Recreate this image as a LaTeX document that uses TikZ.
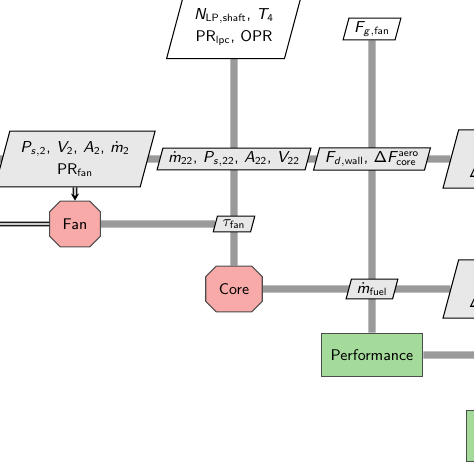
\documentclass[tikz,border=0pt]{standalone}
\usetikzlibrary{arrows, arrows.meta, shapes.geometric, shapes.misc}
\DeclareSymbolFont{sfit}{OT1}{cmss}{m}{sl}
\SetSymbolFont{operators}{normal}{OT1}{cmss}{m}{n}
\DeclareMathSymbol{A}{\mathalpha}{sfit}{`A}
\DeclareMathSymbol{F}{\mathalpha}{sfit}{`F}
\DeclareMathSymbol{N}{\mathalpha}{sfit}{`N}
\DeclareMathSymbol{P}{\mathalpha}{sfit}{`P}
\DeclareMathSymbol{T}{\mathalpha}{sfit}{`T}
\DeclareMathSymbol{V}{\mathalpha}{sfit}{`V}
\DeclareMathSymbol{d}{\mathalpha}{sfit}{`d}
\DeclareMathSymbol{g}{\mathalpha}{sfit}{`g}
\DeclareMathSymbol{m}{\mathalpha}{sfit}{`m}
\DeclareMathSymbol{s}{\mathalpha}{sfit}{`s}
\definecolor{fnred}{HTML}{F8AAA8}
\definecolor{prfgreen}{HTML}{A4DB9A}
\definecolor{iogray}{HTML}{E8E8E8}
\definecolor{lgray}{HTML}{9A9A9A}
\pgfdeclarelayer{back}
\pgfsetlayers{back,main}

\begin{document}
\begin{tikzpicture}[x=0.02cm, y=-0.02cm, >=stealth', semithick,
  font=\fontsize{8.8}{12.5}\selectfont\sffamily,
  io/.style={trapezium, trapezium left angle=75, trapezium right angle=105,
    draw, fill=iogray, inner xsep=3pt, inner ysep=2pt},
  iobig/.style={io, inner xsep=6pt, inner ysep=6pt, align=center},
  func/.style={chamfered rectangle, chamfered rectangle xsep=3pt,
    chamfered rectangle ysep=3pt, draw=black!70, fill=fnred,
    minimum height=26pt, inner xsep=4.5pt},
  perfbox/.style={rectangle, draw=black!70, fill=prfgreen,
    minimum height=25pt, inner xsep=5.5pt},
  dline/.style={draw=lgray, line width=4pt},
  proc/.style={draw=black, double=black!20, double distance=1.2pt, line width=0.7pt}]

  \useasboundingbox (0,0) rectangle (474,474);
  \clip (0,0) rectangle (474,474);

  \node[iobig, fill=white, inner ysep=7.5pt] (lpc) at (234,27) {$N_{\mathsf{LP,shaft}}$, $T_4$\\PR$_{\mathsf{lpc}}$, OPR};
  \node[io, fill=white] (fgfan) at (372,29) {$F_{g,\mathsf{fan}}$};
  \node[iobig] (ps2) at (75,159) {$P_{s,2}$, $V_2$, $A_2$, $\dot{m}_2$\\PR$_{\mathsf{fan}}$};
  \node[io] (m22) at (234,159) {$\dot{m}_{22}$, $P_{s,22}$, $A_{22}$, $V_{22}$};
  \node[io] (fdw) at (372,159) {$F_{d,\mathsf{wall}}$, $\Delta F^{\mathsf{aero}}_{\mathsf{core}}$};
  \node[iobig, text width=51pt, align=left] (rtop) at (514,159) {\strut\\$\Delta$};
  \node[func] (fan) at (75,224) {Fan};
  \node[io] (tfan) at (234,224) {$\tau_{\mathsf{fan}}$};
  \node[func] (core) at (234,289) {Core};
  \node[io] (mfuel) at (372,289) {$\dot{m}_{\mathsf{fuel}}$};
  \node[iobig, text width=51pt, align=left] (rbot) at (514,289) {\strut\\$\Delta$};
  \node[perfbox] (perf) at (372,355) {Performance};
  \node[perfbox, minimum width=60pt, minimum height=29.5pt, anchor=west] (next) at (466,436) {};

  \coordinate (inl) at (0,159);
  \coordinate (pin) at (0,224);
  \coordinate (pout) at (474,355);

  \begin{pgfonlayer}{back}
    \path[dline]
      (inl) -- (rtop)
      (lpc) -- (core)
      (fgfan) -- (perf)
      (fan) -- (tfan)
      (core) -- (rbot)
      (perf) -- (pout);
  \end{pgfonlayer}

  \draw[proc] (pin) -- (fan);
  \draw[proc, -{Stealth[length=4pt, width=4.5pt]}] (ps2) -- (fan);
\end{tikzpicture}
\end{document}
